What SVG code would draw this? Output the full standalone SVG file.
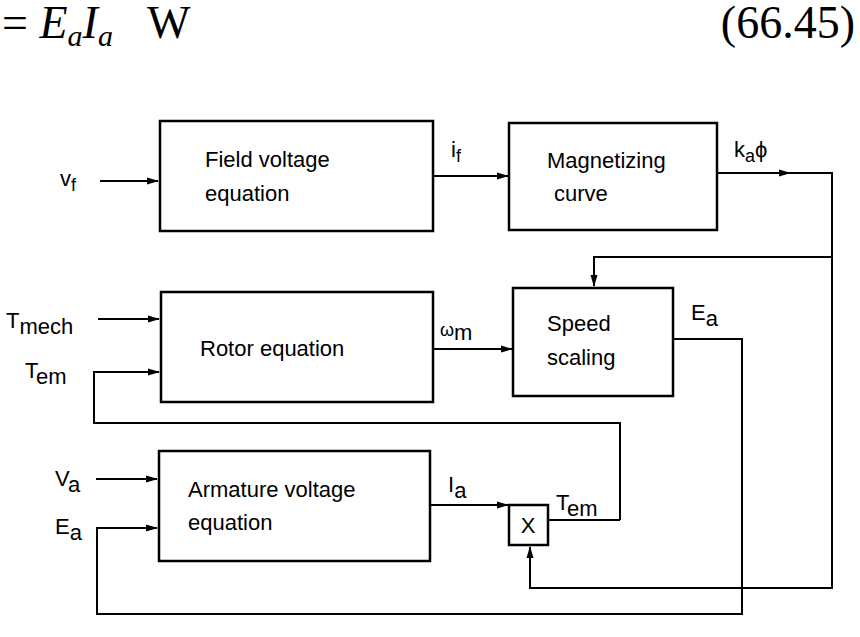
<svg xmlns="http://www.w3.org/2000/svg" width="860" height="637" viewBox="0 0 860 637">
<style>
.b{fill:none;stroke:#000;stroke-width:2.5}
.c{fill:none;stroke:#000;stroke-width:2}
text{font-family:"Liberation Sans",Arial,sans-serif;font-size:22px;fill:#000}
.s{font-size:18px}
.eq{font-family:"Liberation Serif","Times New Roman",serif;font-size:46px}
</style>
<defs><marker id="a" markerWidth="12" markerHeight="8" refX="11" refY="4" orient="auto" markerUnits="userSpaceOnUse"><path d="M0,0.5 L12,4 L0,7.5z" fill="#000"/></marker></defs>
<text class="eq" x="2" y="38">= <tspan font-style="italic">E</tspan><tspan font-style="italic" font-size="30" dy="8">a</tspan><tspan font-style="italic" dy="-8">I</tspan><tspan font-style="italic" font-size="30" dy="8">a</tspan><tspan dy="-8" dx="34">W</tspan></text>
<text class="eq" x="855" y="38" text-anchor="end">(66.45)</text>
<g id="field"><rect class="b" x="160" y="121" width="273" height="110"/><text x="205" y="167">Field voltage</text><text x="205" y="201">equation</text></g>
<g id="mag"><rect class="b" x="509" y="123" width="208" height="107"/><text x="547" y="168">Magnetizing</text><text x="554" y="201">curve</text></g>
<g id="rotor"><rect class="b" x="161" y="292" width="272" height="110"/><text x="200" y="356">Rotor equation</text></g>
<g id="speed"><rect class="b" x="513" y="288" width="160" height="108"/><text x="547" y="331">Speed</text><text x="547" y="365">scaling</text></g>
<g id="arm"><rect class="b" x="159" y="451" width="271" height="110"/><text x="188" y="497">Armature voltage</text><text x="188" y="530">equation</text></g>
<g id="mult"><rect class="b" x="509" y="505" width="39" height="40"/><text x="528" y="533" text-anchor="middle">X</text></g>
<g id="connectors">
<path class="c" d="M100,181H158" marker-end="url(#a)"/>
<path class="c" d="M433,176H508" marker-end="url(#a)"/>
<path class="c" d="M717,173H790" marker-end="url(#a)"/>
<path class="c" d="M780,173H832V588H530V547" marker-end="url(#a)"/>
<path class="c" d="M832,257H594V286" marker-end="url(#a)"/>
<path class="c" d="M98,319H159" marker-end="url(#a)"/>
<path class="c" d="M620,520H548M620,520V423H94V372H159" marker-end="url(#a)"/>
<path class="c" d="M433,349H512" marker-end="url(#a)"/>
<path class="c" d="M673,339H742V614H97V528H157" marker-end="url(#a)"/>
<path class="c" d="M96,479H157" marker-end="url(#a)"/>
<path class="c" d="M430,505H508" marker-end="url(#a)"/>
</g>
<g id="labels">
<text x="60" y="186">v<tspan class="s" dy="5">f</tspan></text>
<text x="451" y="157">i<tspan class="s" dy="5">f</tspan></text>
<text x="734" y="157">k<tspan class="s" dy="5">a</tspan><tspan dy="-5">ϕ</tspan></text>
<text x="6" y="328">T<tspan dy="6">mech</tspan></text>
<text x="25" y="378">T<tspan dy="6">em</tspan></text>
<text x="440" y="336"><tspan class="s">ω</tspan><tspan dy="4">m</tspan></text>
<text x="691" y="320">E<tspan dy="6">a</tspan></text>
<text x="55" y="486">V<tspan dy="6">a</tspan></text>
<text x="55" y="534">E<tspan dy="6">a</tspan></text>
<text x="448" y="492">I<tspan dy="6">a</tspan></text>
<text x="556" y="510">T<tspan dy="6">em</tspan></text>
</g>
</svg>
